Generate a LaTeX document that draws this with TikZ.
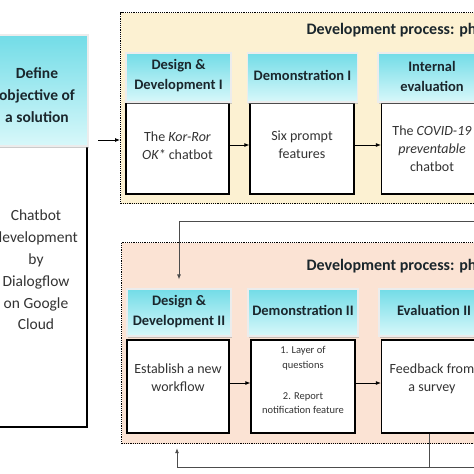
\documentclass[tikz,border=0pt]{standalone}
\usepackage{fontspec}
\setmainfont{Carlito}
\usetikzlibrary{arrows.meta,shadows,calc}
\definecolor{phaseone}{HTML}{FCF1D2}
\definecolor{phasetwo}{HTML}{FBE3D4}
\definecolor{cyantop}{HTML}{72DCE7}
\definecolor{cyanbot}{HTML}{D8F8FA}
\definecolor{txtgray}{HTML}{333333}
\definecolor{hdrink}{HTML}{1A262C}
\begin{document}
\begin{tikzpicture}[x=1pt,y=-1pt,
  phasebox/.style={draw=black, densely dotted, line width=1.2pt, inner sep=0pt, anchor=north west},
  hdr/.style={draw=white!85!gray, line width=1.2pt, top color=cyantop, bottom color=cyanbot,
     drop shadow={shadow xshift=0.5pt, shadow yshift=-2pt, fill=black!40}, inner sep=0pt},
  bodybox/.style={draw=black, line width=1.3pt, fill=white, inner sep=0pt},
  hdrtxt/.style={align=center, font=\bfseries\fontsize{14.5}{20}\selectfont, text=hdrink},
  bodytxt/.style={align=center, font=\fontsize{14}{18}\selectfont, text=txtgray},
  smalltxt/.style={align=center, font=\fontsize{10.5}{14.5}\selectfont, text=txtgray},
  ttl/.style={anchor=west, font=\bfseries\fontsize{16}{19}\selectfont, text=hdrink},
  arr/.style={-{Latex[length=5pt,width=4pt]}, line width=0.8pt},
  conn/.style={line width=0.9pt, draw=black!70}
]
\useasboundingbox (0,0) rectangle (474,474);
\clip (0,0) rectangle (474,474);
\fill[white] (0,0) rectangle (474,474);

% phase containers
\node[phasebox, fill=phaseone, minimum width=500pt, minimum height=191pt] (ph1) at (120,12) {};
\node[phasebox, fill=phasetwo, minimum width=500pt, minimum height=201pt] (ph2) at (121,242) {};
\node[ttl] (ph1t) at (303,30) {Development process: phase I};
\node[ttl] (ph2t) at (303,266) {Development process: phase II};

% define objective
\node[bodybox, minimum width=101pt, minimum height=281pt] (defb) at (36.5,286.5) {};
\node[hdr, minimum width=102pt, minimum height=111pt] (defh) at (37,90.5) {};
\node[hdrtxt, font=\bfseries\fontsize{15.5}{22}\selectfont] (defht) at (37,95) {Define\\objective of\\a solution};
\node[bodytxt, font=\fontsize{15.5}{21.8}\selectfont] (defbt) at (36,270) {Chatbot\\development\\by\\Dialogflow\\on Google\\Cloud};

% phase I boxes
\node[bodybox, minimum width=103pt, minimum height=91pt] (b11) at (177.5,148.5) {};
\node[bodybox, minimum width=104pt, minimum height=91pt] (b12) at (302,148.5) {};
\node[bodybox, minimum width=104pt, minimum height=91pt] (b13) at (433.5,148.5) {};
\node[hdr, minimum width=105pt, minimum height=49pt] (h11) at (178.5,77.5) {};
\node[hdr, minimum width=110pt, minimum height=49pt] (h12) at (302.5,77.5) {};
\node[hdr, minimum width=110pt, minimum height=49pt] (h13) at (433,77.5) {};
\node[hdrtxt] (h11t) at (178.5,76) {Design \&\\Development I};
\node[hdrtxt] (h12t) at (302.5,75) {Demonstration I};
\node[hdrtxt] (h13t) at (432,76) {Internal\\evaluation};
\node[bodytxt] (b11t) at (177.5,146) {The \textit{Kor-Ror}\\\textit{OK*} chatbot};
\node[bodytxt] (b12t) at (302,145) {Six prompt\\features};
\node[bodytxt] (b13t) at (432,149) {The \textit{COVID-19}\\\textit{preventable}\\chatbot};

% phase II boxes
\node[bodybox, minimum width=102pt, minimum height=93pt] (b21) at (178,386.5) {};
\node[bodybox, minimum width=104pt, minimum height=93pt] (b22) at (303,386.5) {};
\node[bodybox, minimum width=104pt, minimum height=93pt] (b23) at (433.5,386.5) {};
\node[hdr, minimum width=104pt, minimum height=47pt] (h21) at (179,312.5) {};
\node[hdr, minimum width=110pt, minimum height=47pt] (h22) at (303,312.5) {};
\node[hdr, minimum width=110pt, minimum height=47pt] (h23) at (434,312.5) {};
\node[hdrtxt] (h21t) at (179,312) {Design \&\\Development II};
\node[hdrtxt] (h22t) at (303,310) {Demonstration II};
\node[hdrtxt] (h23t) at (434,310) {Evaluation II};
\node[bodytxt] (b21t) at (178,378) {Establish a new\\workflow};
\node[smalltxt] (b22ta) at (303,358) {1. Layer of\\questions};
\node[smalltxt] (b22tb) at (303,403) {2. Report\\notification feature};
\node[bodytxt] (b23t) at (432,379) {Feedback from\\a survey};

% arrows within phases
\draw[arr] ([yshift=3.5pt]b11.east) -- ([yshift=3.5pt]b12.west);
\draw[arr] ([yshift=3.5pt]b12.east) -- ([yshift=3.5pt]b13.west);
\draw[arr] ([yshift=3.5pt]b21.east) -- ([yshift=3.5pt]b22.west);
\draw[arr] ([yshift=3.5pt]b22.east) -- ([yshift=3.5pt]b23.west);

% define -> phase I
\coordinate (da) at (98,140);
\draw[arr] (da) -- (da -| ph1.west);

% phase I -> phase II
\coordinate (tR) at (600,221);
\coordinate (tL) at (179,221);
\draw[conn, arr, draw=black!70] (tR) -- (tL) -- ([yshift=9pt]h21.north);

% loop back from evaluation II
\coordinate (bR) at (600,467);
\coordinate (bL) at (177,467);
\coordinate (bE) at (429,467);
\draw[conn] (b23.south -| bE) -- (bE);
\draw[conn, arr, draw=black!70] (bR) -- (bL) -- ([yshift=-4pt]bL |- ph2.south);
\end{tikzpicture}
\end{document}
